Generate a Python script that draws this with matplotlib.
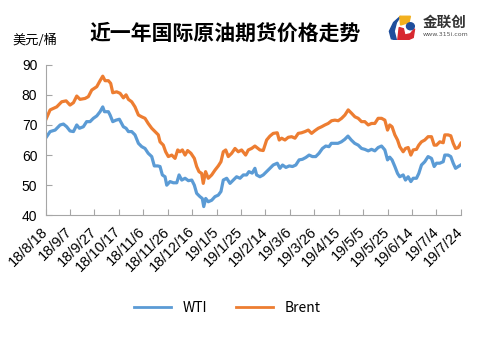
import numpy as np
import matplotlib
matplotlib.use('Agg')
import matplotlib.pyplot as plt
from matplotlib.patches import Polygon, Circle
from matplotlib.lines import Line2D

plt.rcParams['font.family'] = ['Noto Sans CJK SC', 'DejaVu Sans']

# days since 2018-08-18, price in USD/bbl
brent_days = [0, 3.7, 9.1, 13.2, 16.8, 20, 22.8, 25.5, 28.2, 32.3, 35, 37.8, 41.9, 44.6, 46.8,
              48.7, 51.4, 53.3, 55, 58.2, 61, 63.7, 65.9, 67.8, 70.5, 73.2, 76, 78.7, 81.4, 84,
              86.9, 89.6, 92.3, 93.7, 96.4, 98.3, 100.5, 103.3, 106, 108.2, 110, 112, 114.2, 116.3,
              119, 121.8, 123.7, 125.6, 127.8, 129.1, 131, 133.2, 136, 138.7, 141.4, 143.6, 145.5,
              147.5, 149.6, 152.4, 155.1, 157.8, 160.5, 163.8, 166, 168.7, 171.4, 175.5, 178.2,
              181, 183.7, 186.4, 189.7, 191.3, 193.3, 196, 198.7, 201.5, 204.2, 206.9, 209.6,
              212.4, 215.1, 217.8, 220.5, 223.3, 226, 228.7, 231.4, 234.2, 236.9, 239.6, 242.4,
              245.1, 247.8, 250.5, 253.3, 256, 258.7, 261.4, 264.2, 266.9, 269.6, 272.3, 275.1,
              277.8, 280, 281.8, 283.7, 286, 288.2, 290, 292.8, 294.7, 296.9, 299.1, 301, 303.7,
              305.6, 307.8, 310.5, 313.2, 316, 318.2, 320.1, 322.8, 325.6, 326.9, 329.6, 331.8,
              333.8, 335.7, 337.9, 340]
brent = [71.6, 75, 76, 77.7, 78, 76.6, 77.4, 79.6, 78.5, 78.8, 79.4, 81.6, 82.7, 84.7, 86.2,
         84.7, 84.7, 83.8, 80.7, 81, 80.5, 79, 80, 78.5, 77.7, 76, 73.3, 72.7, 72.2, 70.5,
         68.9, 67.8, 66.7, 64.4, 63.3, 61.1, 59.5, 60, 58.9, 61.7, 61.1, 61.7, 60, 61.5,
         60.6, 58.9, 56.2, 54.5, 53.9, 50.6, 54.5, 52.3, 53.4, 55, 56.4, 57.8, 61.1,
         61.7, 59.5, 60.6, 62.2, 61.1, 61.7, 60, 61.7, 62.2, 63, 61.7, 61.5,
         65, 66.3, 67.2, 67.4, 65, 65.6, 65, 65.9, 66.1, 65.6, 67.2, 67.4,
         67.8, 68.3, 67.2, 68.1, 68.9, 69.4, 70, 70.5, 71.4, 71.6, 71.4, 72.2,
         73.3, 75, 73.9, 72.7, 72.2, 71.1, 71.1, 70, 70.5, 70.5, 72.2, 72.2,
         71.6, 68.3, 70, 69.4, 66.7, 65, 62.8, 61.1, 62.2, 62.5, 60, 61.7, 61.9,
         63.3, 64.4, 65, 66.1, 66.1, 63.3, 63.3, 64.4, 64.1, 66.7, 66.7, 66.4,
         63.9, 62.2, 62.5, 63.9]

wti_days = [0, 3.7, 7.8, 11.9, 14.6, 17.3, 20, 22.8, 25.5, 27.7, 30.9, 33.6, 36.4, 39.1, 41.9,
            44.6, 46.8, 48.2, 51.4, 52.8, 55, 57.7, 60.4, 63.7, 65.9, 67.8, 70.5, 73.2, 76,
            78.7, 81.4, 84, 86.9, 89, 91.8, 93.7, 95.6, 97.8, 99.2, 101.9, 104.6, 107.4, 109.3,
            111.5, 114.2, 116.9, 119.7, 121.8, 123.7, 126.4, 128.3, 129.5, 131.1, 133.2, 136,
            138.7, 141.4, 143.6, 145.5, 148.3, 151, 153.7, 156.4, 159.2, 161.9, 164.6, 166.5,
            169.2, 171.4, 172.8, 175.5, 178.2, 181, 183.7, 186.4, 189.7, 191.9, 194, 196.8,
            199.5, 202.2, 204.9, 207.6, 210.3, 213.1, 215.8, 218.5, 221.2, 223.9, 226.7, 229.4,
            232.1, 234, 236.7, 239.4, 242.2, 244.9, 247.6, 250.3, 253.1, 256, 258.7, 261.4,
            264.2, 266.9, 269.6, 272.3, 275.1, 277.8, 280, 281.8, 283.7, 286, 288.2, 290, 292.8,
            294.7, 296.9, 299.1, 301, 303.7, 305.6, 307.8, 310.5, 313.2, 316, 318.2, 320.1,
            322.8, 325.6, 326.9, 329.6, 331.8, 333.8, 335.7, 337.9, 340]
wti = [65.6, 67.8, 68.3, 70, 70.3, 69.4, 68, 67.8, 70, 68.9, 69.4, 71.1, 71.1, 72.2, 73,
       74.4, 76, 74.4, 74.4, 73.3, 71.1, 71.6, 71.9, 69.4, 68.9, 67.8, 67.8, 66.7, 63.9,
       62.8, 62.2, 60.6, 59.5, 56.4, 56.4, 56.2, 53.4, 52.8, 50, 51.2, 50.8, 50.8, 53.4,
       51.7, 52.3, 51.5, 51.7, 50, 47.3, 46.2, 45.6, 42.9, 45.6, 44.5, 45,
       46.2, 46.7, 47.9, 51.7, 52.3, 50.6, 51.7, 52.8, 52.3, 53.4, 53.4, 54.5,
       54, 55.6, 53.4, 52.8, 53.4, 54.5, 55.6, 56.7, 57.3, 55.6, 56.7, 55.9,
       56.4, 56.2, 56.7, 58.4, 58.6, 59.2, 60, 59.5, 59.5, 60.6, 62.2, 63,
       62.8, 63.9, 63.9, 63.9, 64.4, 65.2, 66.3, 65, 63.9, 63.3, 62.2, 61.9,
       61.4, 61.9, 61.4, 62.5, 63, 61.7, 58.4, 59.3, 58.4, 56.2, 53.9, 52.8, 53.4,
       51.7, 52.8, 51.2, 52.3, 52.3, 53.9, 56.7, 57.8, 59.5, 58.9, 56.2, 57.3,
       57.3, 57.8, 60, 60, 59.5, 57.3, 55.6, 56.2, 56.7]

tick_days = list(range(0, 341, 20))
tick_labels = ['18/8/18', '18/9/7', '18/9/27', '18/10/17', '18/11/6', '18/11/26',
               '18/12/16', '19/1/5', '19/1/25', '19/2/14', '19/3/6', '19/3/26',
               '19/4/15', '19/5/5', '19/5/25', '19/6/14', '19/7/4', '19/7/24']

blue = '#5B9BD5'
orange = '#ED7D31'
grey = '#A6A6A6'

fig = plt.figure(figsize=(4.8, 3.55), dpi=100)
ax = fig.add_axes([0.095, 0.3935, 0.865, 0.4242])
ax.plot(wti_days, wti, color=blue, lw=2.3)
ax.plot(brent_days, brent, color=orange, lw=2.3)
ax.set_xlim(0, 340)
ax.set_ylim(40, 90)
ax.set_yticks(range(40, 91, 10))
ax.set_xticks(tick_days)
ax.set_xticklabels(tick_labels, rotation=45, ha='right', va='center', rotation_mode='anchor',
                   family='Liberation Sans', fontsize=10.5)
for lab in ax.get_yticklabels():
    lab.set_family('Liberation Sans')
for s in ['top', 'right']:
    ax.spines[s].set_visible(False)
for s in ['left', 'bottom']:
    ax.spines[s].set_color(grey)
    ax.spines[s].set_linewidth(0.8)
ax.tick_params(direction='in', length=4, color=grey)
ax.tick_params(axis='x', pad=10)
ax.tick_params(axis='y', labelsize=10, pad=6)

handles = [Line2D([], [], color=blue, lw=2), Line2D([], [], color=orange, lw=2)]
fig.legend(handles, ['WTI', 'Brent'], loc='center', bbox_to_anchor=(227 / 480, 1 - 308 / 355),
           ncol=2, frameon=False, handlelength=2.7, columnspacing=2.1, fontsize=10)

fig.text(225 / 480, 1 - 33 / 355, '近一年国际原油期货价格走势', ha='center', va='center',
         fontsize=15, fontweight='bold')
fig.text(12 / 480, 1 - 40 / 355, '美元/桶', ha='left', va='center', fontsize=9.5)

# logo
lg = fig.add_axes([388 / 480, 1 - 40 / 355, 28 / 480, 25 / 355])
lg.set_xlim(0, 1)
lg.set_ylim(0, 1)
lg.axis('off')
lg.add_patch(Polygon([(0.45, 0.95), (0.2, 0.7), (0.05, 0.35), (0.12, 0.05), (0.3, 0.0),
                      (0.22, 0.35), (0.3, 0.7)], color='#1F4E9C'))
lg.add_patch(Polygon([(0.42, 0.95), (0.8, 0.95), (0.75, 0.7), (0.45, 0.6)], color='#F2B01E'))
lg.add_patch(Polygon([(0.35, 0.0), (0.4, 0.5), (0.55, 0.45), (0.6, 0.2), (0.8, 0.25),
                      (0.95, 0.45), (0.9, 0.1), (0.6, -0.05)], color='#D7282F'))
lg.add_patch(Circle((0.8, 0.55), 0.14, color='#1F4E9C'))
fig.text(423 / 480, 1 - 22 / 355, '金联创', ha='left', va='center', fontsize=10.5, fontweight='bold',
         color='#333333')
fig.text(423 / 480, 1 - 34 / 355, 'www.315i.com', ha='left', va='center', fontsize=4.5,
         color='#555555', family='DejaVu Sans')

fig.savefig('out.png', dpi=100)
